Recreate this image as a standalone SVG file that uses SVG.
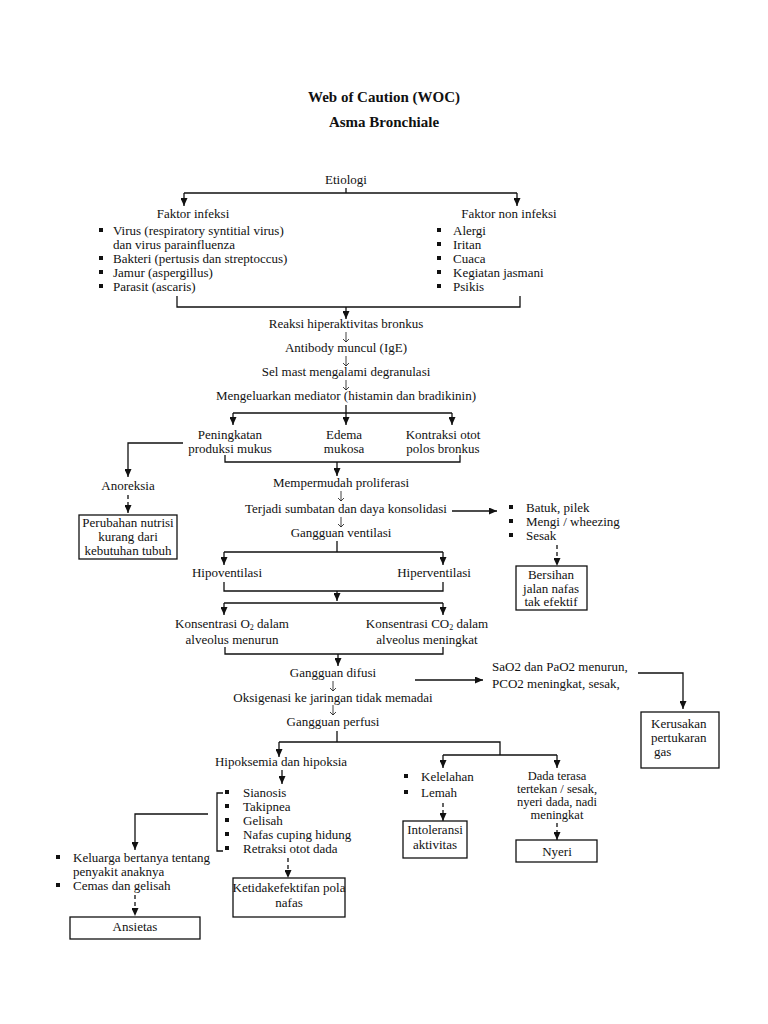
<svg xmlns="http://www.w3.org/2000/svg" width="768" height="1024" viewBox="0 0 768 1024">
<style>
text{font-family:"Liberation Serif","Times New Roman",serif;font-size:13px;fill:#111}
.c{text-anchor:middle}
.t{font-weight:bold;font-size:15px}
.ln{fill:none;stroke:#111;stroke-width:1.3}
.ar{fill:none;stroke:#111;stroke-width:1.3;marker-end:url(#ah)}
.da{fill:none;stroke:#111;stroke-width:1.3;stroke-dasharray:4,3;marker-end:url(#ah)}
.sm{fill:none;stroke:#111;stroke-width:0.8}
.bx{fill:#fff;stroke:#111;stroke-width:1.3}
.bu{fill:#111}
.sub{font-size:8px}
.tight{font-size:12.5px}
</style>
<defs>
<marker id="ah" viewBox="0 0 8 7" refX="8" refY="3.5" markerWidth="8" markerHeight="7" orient="auto" markerUnits="userSpaceOnUse">
<path d="M0,0 L8,3.5 L0,7 Z" fill="#111"/>
</marker>
</defs>
<rect width="768" height="1024" fill="#fff"/>

<g id="title">
<text class="c t" x="384" y="102">Web of Caution (WOC)</text>
<text class="c t" x="384" y="127">Asma Bronchiale</text>
</g>

<g id="connectors">
<path class="ln" d="M346,188 V193 M184,193 H517"/>
<path class="ar" d="M184,193 V206"/>
<path class="ar" d="M517,193 V206"/>
<path class="ln" d="M177,296 V307 H520 V296"/>
<path class="ar" d="M346,307 V319"/>
<path class="sm" d="M346,332 V342 M343,339 L346,342 L349,339"/>
<path class="sm" d="M346,356 V366 M343,363 L346,366 L349,363"/>
<path class="sm" d="M346,380 V390 M343,387 L346,390 L349,387"/>
<path class="sm" d="M341,491 V501 M338,498 L341,501 L344,498"/>
<path class="sm" d="M341,517 V527 M338,524 L341,527 L344,524"/>
<path class="sm" d="M333,681 V691 M330,688 L333,691 L336,688"/>
<path class="sm" d="M333,705 V715 M330,712 L333,715 L336,712"/>
<path class="ln" d="M346,405 V413 M233,413 H452"/>
<path class="ar" d="M233,413 V425"/>
<path class="ar" d="M346,413 V425"/>
<path class="ar" d="M452,413 V425"/>
<path class="ar" d="M183,443 H128 V477"/>
<path class="da" d="M128,495 V513"/>
<path class="ln" d="M225,455 V462 H460 V455"/>
<path class="ar" d="M337,462 V476"/>
<path class="ar" d="M452,511 H497"/>
<path class="da" d="M557,545 V566"/>
<path class="ln" d="M337,541 V552 M224,552 H443"/>
<path class="ar" d="M224,552 V565"/>
<path class="ar" d="M443,552 V565"/>
<path class="ln" d="M224,582 V591 H443 V582"/>
<path class="ar" d="M337,591 V601"/>
<path class="ln" d="M224,603 H443"/>
<path class="ar" d="M224,603 V615"/>
<path class="ar" d="M443,603 V615"/>
<path class="ln" d="M225,647 V654 H443 V647"/>
<path class="ar" d="M338,654 V666"/>
<path class="ar" d="M415,680 H483"/>
<path class="ar" d="M638,673 H683 V709"/>
<path class="ln" d="M337,731 V742 M279,742 H500 V755 M443,755 H557"/>
<path class="ar" d="M279,742 V757"/>
<path class="ar" d="M443,755 V768"/>
<path class="ar" d="M557,755 V768"/>
<path class="ar" d="M282,770 V784"/>
<path class="ln" d="M223,793 H217 V851 H223"/>
<path class="ar" d="M208,814 H135 V850"/>
<path class="da" d="M135,895 V916"/>
<path class="da" d="M288,858 V878"/>
<path class="da" d="M443,803 V821"/>
<path class="da" d="M557,823 V840"/>
</g>

<g id="etiologi"><text class="c" x="346" y="184">Etiologi</text></g>

<g id="faktor-infeksi">
<text class="c" x="193" y="218">Faktor infeksi</text>
<rect class="bu" x="99" y="228" width="4" height="4"/>
<text x="113" y="235">Virus (respiratory syntitial virus)</text>
<text x="113" y="249">dan virus parainfluenza</text>
<rect class="bu" x="99" y="256" width="4" height="4"/>
<text x="113" y="263">Bakteri (pertusis dan streptoccus)</text>
<rect class="bu" x="99" y="270" width="4" height="4"/>
<text x="113" y="277">Jamur (aspergillus)</text>
<rect class="bu" x="99" y="284" width="4" height="4"/>
<text x="113" y="291">Parasit (ascaris)</text>
</g>

<g id="faktor-non-infeksi">
<text class="c" x="509" y="218">Faktor non infeksi</text>
<rect class="bu" x="437" y="228" width="4" height="4"/>
<text x="453" y="235">Alergi</text>
<rect class="bu" x="437" y="242" width="4" height="4"/>
<text x="453" y="249">Iritan</text>
<rect class="bu" x="437" y="256" width="4" height="4"/>
<text x="453" y="263">Cuaca</text>
<rect class="bu" x="437" y="270" width="4" height="4"/>
<text x="453" y="277">Kegiatan jasmani</text>
<rect class="bu" x="437" y="284" width="4" height="4"/>
<text x="453" y="291">Psikis</text>
</g>

<g id="reaksi"><text class="c" x="346" y="328">Reaksi hiperaktivitas bronkus</text></g>
<g id="antibody"><text class="c" x="346" y="352">Antibody muncul (IgE)</text></g>
<g id="selmast"><text class="c" x="346" y="376">Sel mast mengalami degranulasi</text></g>
<g id="mediator"><text class="c" x="346" y="400">Mengeluarkan mediator (histamin dan bradikinin)</text></g>

<g id="peningkatan">
<text class="c" x="230" y="439">Peningkatan</text>
<text class="c" x="230" y="453">produksi mukus</text>
</g>
<g id="edema">
<text class="c" x="344" y="439">Edema</text>
<text class="c" x="344" y="453">mukosa</text>
</g>
<g id="kontraksi">
<text class="c" x="443" y="439">Kontraksi otot</text>
<text class="c" x="443" y="453">polos bronkus</text>
</g>

<g id="anoreksia"><text class="c" x="128" y="490">Anoreksia</text></g>
<g id="nutrisi">
<rect class="bx" x="79" y="515" width="98" height="44"/>
<text class="c" x="128" y="527">Perubahan nutrisi</text>
<text class="c" x="128" y="541">kurang dari</text>
<text class="c" x="128" y="555">kebutuhan tubuh</text>
</g>

<g id="mempermudah"><text class="c" x="341" y="487">Mempermudah proliferasi</text></g>
<g id="sumbatan"><text class="c" x="346" y="513">Terjadi sumbatan dan daya konsolidasi</text></g>
<g id="ventilasi"><text class="c" x="341" y="537">Gangguan ventilasi</text></g>

<g id="batuk">
<rect class="bu" x="509" y="505" width="4" height="4"/>
<text x="526" y="512">Batuk, pilek</text>
<rect class="bu" x="509" y="519" width="4" height="4"/>
<text x="526" y="526">Mengi / wheezing</text>
<rect class="bu" x="509" y="533" width="4" height="4"/>
<text x="526" y="540">Sesak</text>
</g>
<g id="bersihan">
<rect class="bx" x="516" y="566" width="71" height="44"/>
<text class="c" x="551" y="579">Bersihan</text>
<text class="c" x="551" y="593">jalan nafas</text>
<text class="c" x="551" y="606">tak efektif</text>
</g>

<g id="hipoventilasi"><text class="c" x="227" y="577">Hipoventilasi</text></g>
<g id="hiperventilasi"><text class="c" x="434" y="577">Hiperventilasi</text></g>

<g id="konsentrasi-o2">
<text class="c" x="232" y="628">Konsentrasi O<tspan class="sub" dy="2">2</tspan><tspan dy="-2"> dalam</tspan></text>
<text class="c" x="232" y="644">alveolus menurun</text>
</g>
<g id="konsentrasi-co2">
<text class="c" x="427" y="628">Konsentrasi CO<tspan class="sub" dy="2">2</tspan><tspan dy="-2"> dalam</tspan></text>
<text class="c" x="427" y="644">alveolus meningkat</text>
</g>

<g id="difusi"><text class="c" x="333" y="677">Gangguan difusi</text></g>
<g id="oksigenasi"><text class="c" x="333" y="702">Oksigenasi ke jaringan tidak memadai</text></g>
<g id="perfusi"><text class="c" x="333" y="726">Gangguan perfusi</text></g>

<g id="sao2">
<text x="492" y="671">SaO2 dan PaO2 menurun,</text>
<text x="492" y="688">PCO2 meningkat, sesak,</text>
</g>
<g id="kerusakan">
<rect class="bx" x="641" y="712" width="78" height="56"/>
<text x="651" y="728">Kerusakan</text>
<text x="651" y="742">pertukaran</text>
<text x="654" y="756">gas</text>
</g>

<g id="hipoksemia"><text class="c" x="281" y="766">Hipoksemia dan hipoksia</text></g>
<g id="gejala">
<rect class="bu" x="225" y="790" width="4" height="4"/>
<text x="243" y="797">Sianosis</text>
<rect class="bu" x="225" y="804" width="4" height="4"/>
<text x="243" y="811">Takipnea</text>
<rect class="bu" x="225" y="818" width="4" height="4"/>
<text x="243" y="825">Gelisah</text>
<rect class="bu" x="225" y="832" width="4" height="4"/>
<text x="243" y="839">Nafas cuping hidung</text>
<rect class="bu" x="225" y="846" width="4" height="4"/>
<text x="243" y="853">Retraksi otot dada</text>
</g>
<g id="pola-nafas">
<rect class="bx" x="233" y="878" width="112" height="39"/>
<text class="c" x="289" y="892">Ketidakefektifan pola</text>
<text class="c" x="289" y="907">nafas</text>
</g>

<g id="keluarga">
<rect class="bu" x="56" y="855" width="4" height="4"/>
<text x="73" y="862">Keluarga bertanya tentang</text>
<text x="73" y="876">penyakit anaknya</text>
<rect class="bu" x="56" y="883" width="4" height="4"/>
<text x="73" y="890">Cemas dan gelisah</text>
</g>
<g id="ansietas">
<rect class="bx" x="70" y="917" width="130" height="22"/>
<text class="c" x="135" y="931">Ansietas</text>
</g>

<g id="kelelahan">
<rect class="bu" x="404" y="774" width="4" height="4"/>
<text x="421" y="781">Kelelahan</text>
<rect class="bu" x="404" y="790" width="4" height="4"/>
<text x="421" y="797">Lemah</text>
</g>
<g id="intoleransi">
<rect class="bx" x="403" y="821" width="64" height="37"/>
<text class="c" x="435" y="834">Intoleransi</text>
<text class="c" x="435" y="849">aktivitas</text>
</g>

<g id="dada">
<text class="c tight" x="557" y="780">Dada terasa</text>
<text class="c tight" x="557" y="793">tertekan / sesak,</text>
<text class="c tight" x="557" y="806">nyeri dada, nadi</text>
<text class="c tight" x="557" y="819">meningkat</text>
</g>
<g id="nyeri">
<rect class="bx" x="516" y="840" width="81" height="22"/>
<text class="c" x="557" y="856">Nyeri</text>
</g>
</svg>
